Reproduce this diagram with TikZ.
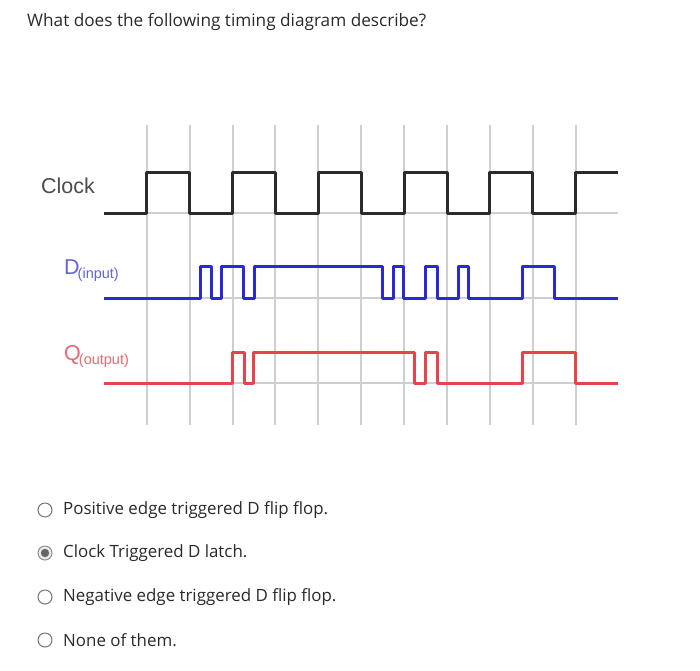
\documentclass[tikz,border=0pt]{standalone}
\usepackage{fontspec}
\setmainfont{Open Sans}
\newfontfamily\arialf{Liberation Sans}
\newcommand\mysubfont{\arialf\fontsize{14.5}{15}\selectfont}
\definecolor{gridc}{HTML}{CFCFCF}
\definecolor{clkc}{HTML}{2B2B2B}
\definecolor{dc}{HTML}{2A2AD4}
\definecolor{dlab}{HTML}{6464DC}
\definecolor{qc}{HTML}{E8434B}
\definecolor{qlab}{HTML}{E86A6E}
\definecolor{txt}{HTML}{2A2A2A}
\tikzset{
  gridline/.style={draw=gridc, line width=2pt},
  sig/.style={line width=3pt, line join=round},
  optxt/.style={anchor=west, inner sep=0pt, text=txt, font=\fontsize{16.9}{19}\selectfont},
  radio/.style={circle, draw=black!55, line width=1pt, fill=white, minimum size=14pt, inner sep=0pt},
  lab/.style={inner sep=0pt, font=\arialf\fontsize{21.5}{23}\selectfont}
}
\begin{document}
\begin{tikzpicture}[x=1pt,y=-1pt]
\useasboundingbox (0,0) rectangle (700,670);
\fill[white] (0,0) rectangle (700,670);
% title
\node[anchor=west, inner sep=0pt, text=txt, font=\fontsize{17.2}{19}\selectfont] (title) at (27,22) {What does the following timing diagram describe?};
% grid
\foreach \i in {0,...,10} {
  \draw[gridline] ({146.7+42.9*\i},125) -- ({146.7+42.9*\i},425);
}
\foreach \y in {213,298,383} {
  \draw[gridline] (104,\y) -- (618,\y);
}
% labels
\node[lab, text=black!70, anchor=west] (clk) at (41,186) {Clock};
\node[lab, text=dlab, anchor=west] (dl) at (64,271) {D\raisebox{-4pt}{\mysubfont\kern-2pt(input)}};
\node[lab, text=qlab, anchor=west] (ql) at (64,356) {Q\raisebox{-4pt}{\mysubfont\kern-2pt(output)}};
% clock
\draw[sig, clkc] (104,213)
  \foreach \i in {0,2,4,6,8} { -| ({146.7+42.9*\i},172) -| ({146.7+42.9*(\i+1)},213) }
  -| ({146.7+42.9*10},172) -- (618,172);
% D
\draw[sig, dc] (104,298) -| (200,266) -| (211,298) -| (221,266) -| (243,298) -| (254,266)
  -| (382,298) -| (393,266) -| (403,298) -| (425,266) -| (437,298) -| (458,266)
  -| (468,298) -| (522,266) -| (554,298) -- (618,298);
% Q
\draw[sig, qc] (104,383) -| (232,352) -| (244,383) -| (253,352) -| (414.6,383)
  -| (425,352) -| (437.6,383) -| (522,352) -| (575.3,383) -- (618,383);
% options
\node[radio] (r1) at (45,510) {};
\node[optxt] (o1) at (63,510) {Positive edge triggered D flip flop.};
\node[radio, draw=black!45, fill=black!8] (r2) at (45,553) {};
\fill[black!60] (r2.center) circle (4.2pt);
\node[optxt] (o2) at (63,553) {Clock Triggered D latch.};
\node[radio] (r3) at (45,597) {};
\node[optxt] (o3) at (63,597) {Negative edge triggered D flip flop.};
\node[radio] (r4) at (45,640) {};
\node[optxt] (o4) at (63,640) {None of them.};
\end{tikzpicture}
\end{document}
